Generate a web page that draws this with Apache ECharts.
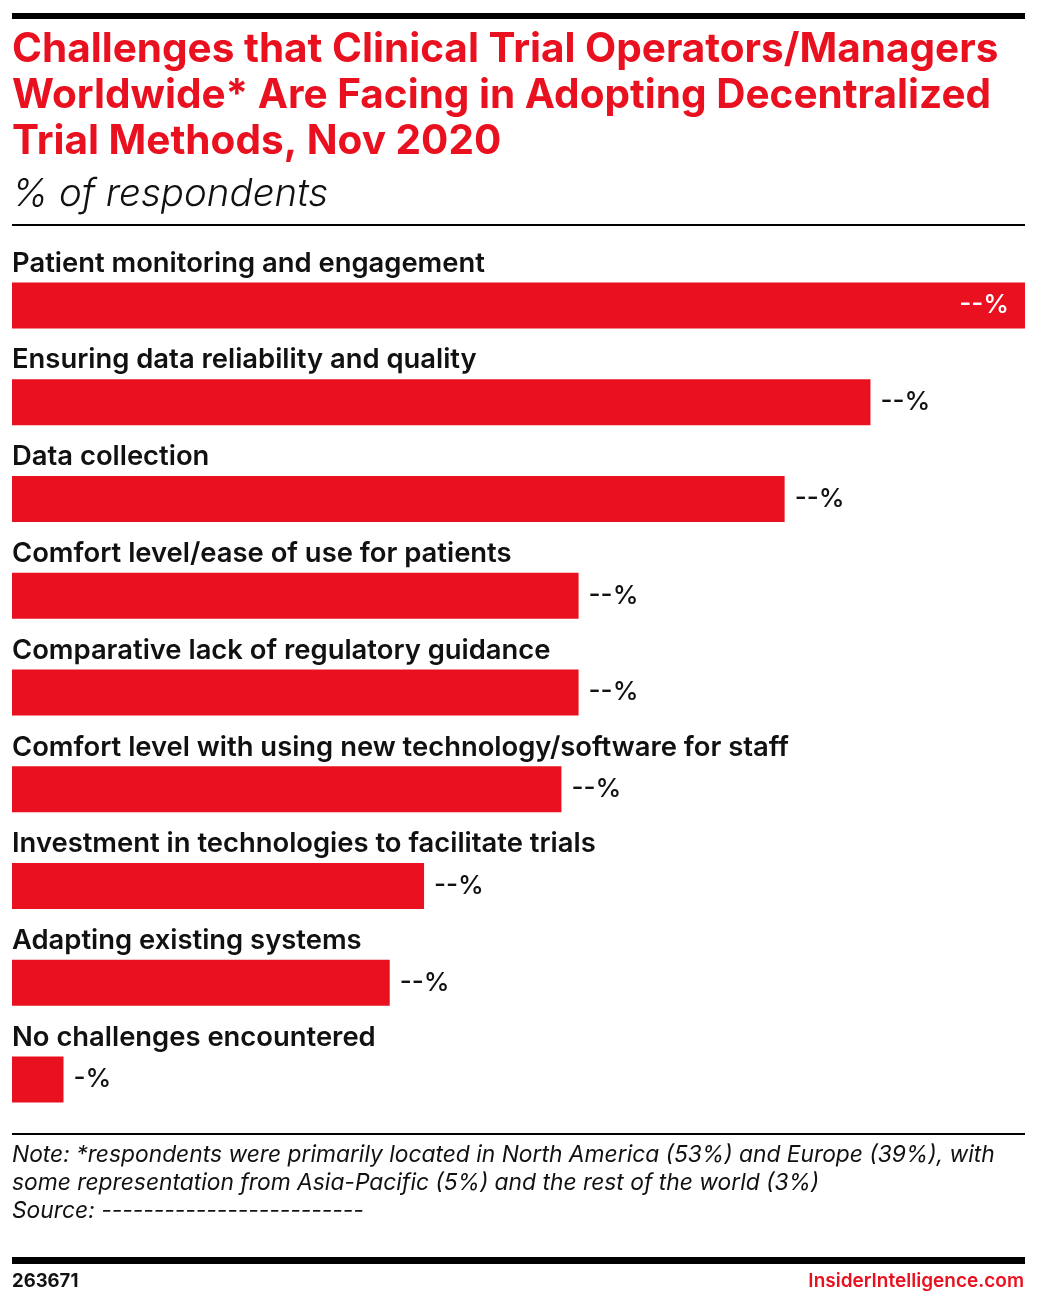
<!DOCTYPE html>
<html>
<head>
<meta charset="utf-8">
<script src="https://cdn.jsdelivr.net/npm/echarts@6/dist/echarts.min.js"></script>
<style>html,body{margin:0;padding:0;background:#fff}#c{width:1038px;height:1306px}</style>
</head>
<body>
<div id="c"></div>
<script>
const categories = [
  'Patient monitoring and engagement',
  'Ensuring data reliability and quality',
  'Data collection',
  'Comfort level/ease of use for patients',
  'Comparative lack of regulatory guidance',
  'Comfort level with using new technology/software for staff',
  'Investment in technologies to facilitate trials',
  'Adapting existing systems',
  'No challenges encountered'
];
const values = [59, 50, 45, 33, 33, 32, 24, 22, 3];
const valueLabels = ['--%', '--%', '--%', '--%', '--%', '--%', '--%', '--%', '-%'];

const RED = '#E9111F';
const FONT = 'Inter, "Noto Sans", sans-serif';
const chart = echarts.init(document.getElementById('c'), null, {renderer: 'canvas'});

const option = {
  backgroundColor: '#fff',
  animation: false,
  title: [
    {
      text: 'Challenges that Clinical Trial Operators/Managers\nWorldwide* Are Facing in Adopting Decentralized\nTrial Methods, Nov 2020',
      left: 12, top: 27, padding: 0,
      textStyle: {color: RED, fontFamily: FONT, fontWeight: 700, fontSize: 40.5, lineHeight: 46}
    },
    {
      text: '% of respondents',
      left: 12, top: 173, padding: 0,
      textStyle: {color: '#111', fontFamily: FONT, fontWeight: 300, fontStyle: 'italic', fontSize: 38.5, lineHeight: 42}
    },
    {
      text: 'Note: *respondents were primarily located in North America (53%) and Europe (39%), with\nsome representation from Asia-Pacific (5%) and the rest of the world (3%)\nSource: -------------------------',
      left: 12, top: 1141, padding: 0,
      textStyle: {color: '#111', fontFamily: FONT, fontWeight: 400, fontStyle: 'italic', fontSize: 22.8, lineHeight: 28}
    },
    {
      text: '263671',
      left: 12, top: 1271, padding: 0,
      textStyle: {color: '#111', fontFamily: FONT, fontWeight: 700, fontSize: 18.5, lineHeight: 20}
    },
    {
      text: 'InsiderIntelligence.com',
      right: 14, top: 1271, padding: 0,
      textStyle: {color: RED, fontFamily: FONT, fontWeight: 600, fontSize: 19, lineHeight: 20}
    }
  ],
  graphic: [
    {type: 'rect', shape: {x: 12, y: 13, width: 1013, height: 6}, style: {fill: '#000'}},
    {type: 'rect', shape: {x: 12, y: 224, width: 1013, height: 2}, style: {fill: '#000'}},
    {type: 'rect', shape: {x: 12, y: 1133, width: 1013, height: 2}, style: {fill: '#000'}},
    {type: 'rect', shape: {x: 12, y: 1257, width: 1013, height: 7}, style: {fill: '#000'}}
  ],
  grid: {left: 12, right: 13, top: 257, height: 871, containLabel: false},
  xAxis: {
    type: 'value', min: 0, max: 59,
    show: false
  },
  yAxis: {
    type: 'category', inverse: true, data: categories,
    axisLine: {show: false}, axisTick: {show: false}, splitLine: {show: false},
    axisLabel: {
      inside: true, margin: 0, align: 'left', verticalAlign: 'bottom',
      padding: [0, 0, 28, 0],
      color: '#111', fontFamily: FONT, fontWeight: 600, fontSize: 27.4, lineHeight: 28
    }
  },
  series: [{
    type: 'bar', barWidth: 46,
    data: values.map((v, i) => ({
      value: v,
      label: i === 0
        ? {show: true, position: 'insideRight', distance: 16, color: '#fff'}
        : {show: true, position: 'right', distance: 10, color: '#111'}
    })),
    itemStyle: {color: RED},
    label: {
      fontFamily: FONT, fontWeight: 500, fontSize: 26,
      formatter: p => valueLabels[p.dataIndex]
    }
  }]
};
chart.setOption(option);
</script>
</body>
</html>
